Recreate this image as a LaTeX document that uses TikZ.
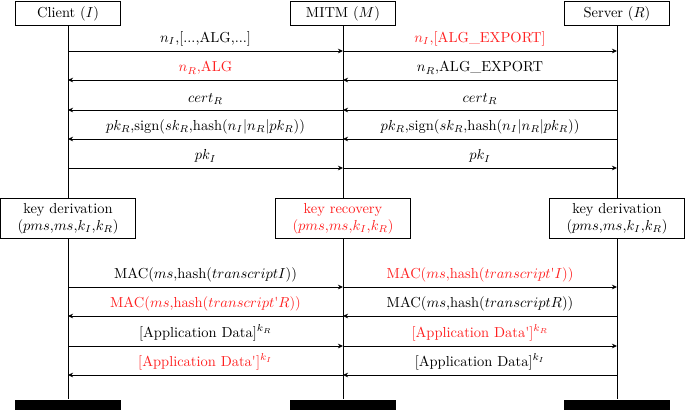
\documentclass[tikz,border=0pt]{standalone}
\usetikzlibrary{arrows.meta,positioning}
\definecolor{MitmRed}{HTML}{FF2020}

\begin{document}
\begin{tikzpicture}[
  x=0.69pt, y=-0.69pt,
  actor/.style={draw, line width=0.6pt, fill=white, minimum width=72.5pt, minimum height=16pt, inner sep=0pt},
  keybox/.style={draw, line width=0.6pt, fill=white, minimum width=93pt, minimum height=28pt, align=center, inner sep=2pt},
  endbar/.style={fill=black, minimum width=72.5pt, minimum height=10pt, inner sep=0pt},
  life/.style={line width=0.55pt},
  msg/.style={-{Stealth[length=3.5pt,width=3.2pt]}, line width=0.55pt},
  lab/.style={above},
  evil/.style={text=MitmRed}
]
\useasboundingbox (0,0) rectangle (685,409);
% parties
\node[actor] (client) at (68,13.5) {Client ($I$)};
\node[actor] (mitm) at (343,13.5) {MITM ($M$)};
\node[actor] (server) at (617,13.5) {Server ($R$)};
% key computation
\node[keybox] (kdI) at (68,218.5) {key derivation\\($pms$,$ms$,$k_I$,$k_R$)};
\node[keybox, evil] (krM) at (343,218.5) {key recovery\\($pms$,$ms$,$k_I$,$k_R$)};
\node[keybox] (kdR) at (617,218.5) {key derivation\\($pms$,$ms$,$k_I$,$k_R$)};
% end of lifelines
\node[endbar] (endI) at (68,407) {};
\node[endbar] (endM) at (343,407) {};
\node[endbar] (endR) at (617,407) {};
\draw[life] (client) -- (kdI);
\draw[life] (kdI) -- (endI);
\draw[life] (mitm) -- (krM);
\draw[life] (krM) -- (endM);
\draw[life] (server) -- (kdR);
\draw[life] (kdR) -- (endR);
% message rows
\foreach \r/\y in {1/51,2/80,3/110,4/139,5/168,6/287,7/316,8/346,9/375} {
  \coordinate (I\r) at (68,\y);
  \coordinate (M\r) at (343,\y);
  \coordinate (R\r) at (617,\y);
}
\draw[msg] (I1) -- node[lab]{$n_I$,[...,ALG,...]} (M1);
\draw[msg] (M1) -- node[lab, evil]{$n_I$,[ALG\_EXPORT]} (R1);
\draw[msg] (R2) -- node[lab]{$n_R$,ALG\_EXPORT} (M2);
\draw[msg] (M2) -- node[lab, evil]{$n_R$,ALG} (I2);
\draw[msg] (R3) -- node[lab]{$cert_R$} (M3);
\draw[msg] (M3) -- node[lab]{$cert_R$} (I3);
\draw[msg] (R4) -- node[lab]{$pk_R$,sign($sk_R$,hash($n_I|n_R|pk_R$))} (M4);
\draw[msg] (M4) -- node[lab]{$pk_R$,sign($sk_R$,hash($n_I|n_R|pk_R$))} (I4);
\draw[msg] (I5) -- node[lab]{$pk_I$} (M5);
\draw[msg] (M5) -- node[lab]{$pk_I$} (R5);
% finished and data
\draw[msg] (I6) -- node[lab]{MAC($ms$,hash($transcriptI$))} (M6);
\draw[msg] (M6) -- node[lab, evil]{MAC($ms$,hash($transcript$\textquotesingle$I$))} (R6);
\draw[msg] (R7) -- node[lab]{MAC($ms$,hash($transcriptR$))} (M7);
\draw[msg] (M7) -- node[lab, evil]{MAC($ms$,hash($transcript$\textquotesingle$R$))} (I7);
\draw[msg] (I8) -- node[lab]{[Application Data]$^{k_R}$} (M8);
\draw[msg] (M8) -- node[lab, evil]{[Application Data\textquotesingle]$^{k_R}$} (R8);
\draw[msg] (R9) -- node[lab]{[Application Data]$^{k_I}$} (M9);
\draw[msg] (M9) -- node[lab, evil]{[Application Data\textquotesingle]$^{k_I}$} (I9);
\end{tikzpicture}
\end{document}
